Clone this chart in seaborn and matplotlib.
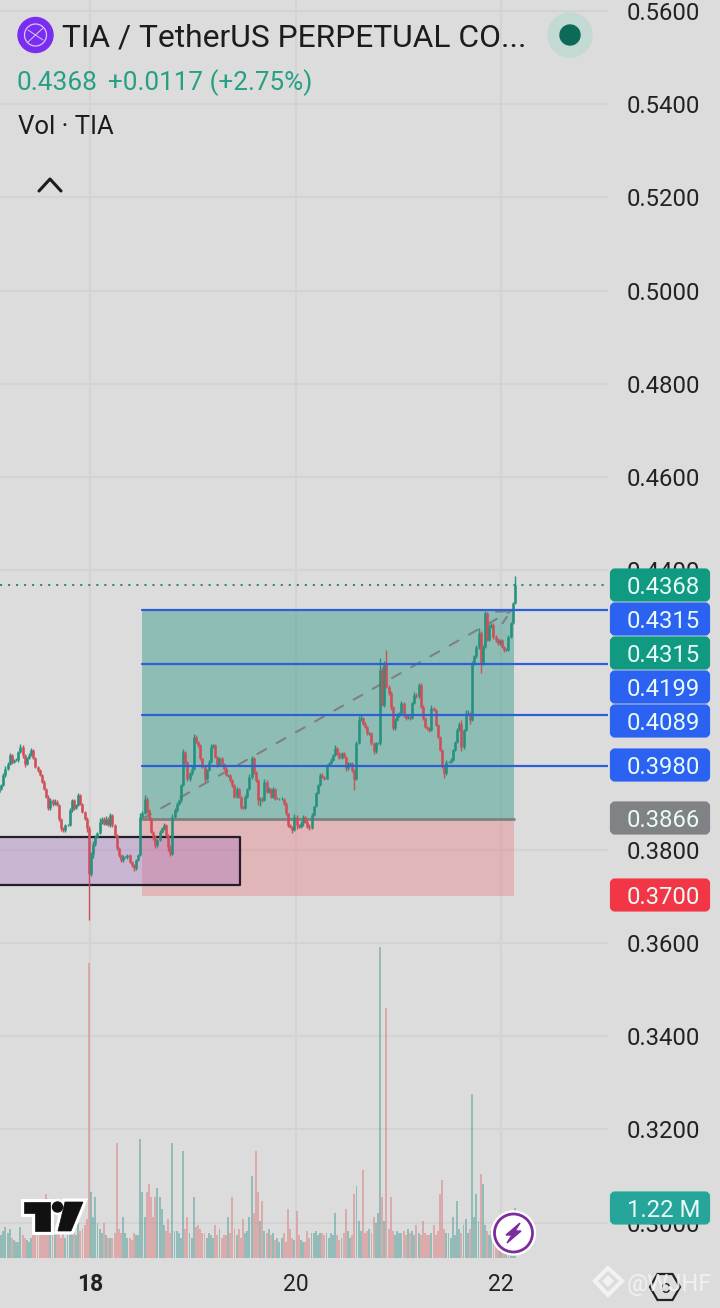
import numpy as np
import pandas as pd
import matplotlib
matplotlib.use('Agg')
import matplotlib.pyplot as plt
import seaborn as sns
from matplotlib.patches import Circle, Ellipse, FancyBboxPatch, Polygon, RegularPolygon

# --- data ---
closes = [
    .3931, .3939, .3960, .3974, .3985, .4003, .3989, .3992, .3992, .4010, .4021, .4003, .3985, .3996, .4003, .4014, .3996, .3978, .3971, .3960,
    .3946, .3931, .3914, .3889, .3906, .3899, .3903, .3896, .3867, .3846, .3842, .3853, .3853, .3885, .3906, .3889, .3896, .3917, .3899, .3881,
    .3867, .3846, .3749, .3792, .3813, .3828, .3835, .3860, .3867, .3856, .3867, .3853, .3874, .3853, .3831, .3803, .3788, .3778, .3785, .3785,
    .3788, .3774, .3767, .3760, .3778, .3788, .3871, .3878, .3910, .3885, .3867, .3838, .3828, .3810, .3821, .3838, .3846, .3853, .3831, .3806,
    .3792, .3871, .3885, .3899, .3906, .3939, .4010, .3989, .3953, .3964, .3974, .4042, .4032, .4024, .3996, .3978, .3953, .3971, .3989, .4021,
    .4024, .3999, .3982, .3996, .3985, .3974, .3960, .3960, .3949, .3939, .3914, .3931, .3914, .3892, .3889, .3914, .3931, .3956, .3996, .3967,
    .3949, .3906, .3910, .3906, .3946, .3924, .3931, .3914, .3931, .3910, .3910, .3910, .3910, .3899, .3878, .3853, .3849, .3842, .3871, .3853,
    .3850, .3857, .3871, .3860, .3850, .3846, .3875, .3893, .3921, .3939, .3961, .3957, .3953, .3982, .3986, .3993, .4004, .4018, .4007, .3996,
    .4007, .4000, .3975, .3986, .3986, .3971, .3953, .4029, .4079, .4082, .4071, .4064, .4050, .4050, .4029, .4011, .4029, .4029, .4186, .4111,
    .4200, .4150, .4136, .4107, .4061, .4079, .4089, .4093, .4114, .4089, .4082, .4086, .4082, .4114, .4132, .4129, .4154, .4107, .4082, .4064,
    .4061, .4057, .4104, .4100, .4068, .4043, .4014, .3979, .3964, .3989, .3989, .3993, .4014, .4032, .4057, .4071, .4021, .4057, .4093, .4093,
    .4079, .4200, .4215, .4236, .4265, .4200, .4236, .4308, .4250, .4279, .4283, .4257, .4250, .4243, .4250, .4236, .4229, .4229, .4257, .4286,
    .4329, .4368,
]
# wick lengths in price ticks of 0.0001
upper_wick = [
    3, 2, 4, 5, 3, 4, 3, 2, 4, 3, 6, 3, 2, 3, 4, 5, 2, 3, 2, 2,
    2, 3, 2, 3, 5, 4, 6, 3, 2, 2, 2, 3, 2, 5, 4, 3, 2, 4, 3, 2,
    2, 3, 5, 3, 6, 4, 3, 8, 4, 3, 5, 4, 6, 3, 2, 2, 3, 2, 3, 2,
    3, 2, 2, 3, 2, 3, 8, 6, 8, 3, 2, 3, 2, 3, 3, 4, 3, 5, 3, 2,
    4, 6, 5, 3, 4, 3, 6, 3, 2, 4, 5, 6, 5, 2, 3, 2, 4, 3, 3, 5,
    4, 3, 2, 4, 3, 2, 3, 2, 2, 3, 2, 3, 2, 2, 3, 3, 2, 6, 5, 3,
    3, 2, 4, 3, 5, 3, 4, 2, 3, 2, 3, 2, 3, 2, 3, 2, 2, 3, 6, 3,
    3, 4, 3, 2, 3, 5, 3, 2, 3, 3, 4, 3, 2, 3, 2, 3, 2, 6, 3, 2,
    3, 2, 2, 3, 2, 3, 3, 5, 8, 7, 3, 4, 2, 3, 2, 3, 2, 2, 25, 6,
    5, 29, 3, 4, 2, 3, 5, 3, 6, 3, 2, 3, 2, 4, 6, 4, 5, 4, 3, 2,
    2, 3, 6, 3, 2, 2, 2, 3, 4, 3, 2, 3, 3, 2, 4, 3, 8, 3, 6, 8,
    3, 5, 4, 3, 10, 5, 4, 5, 3, 5, 4, 3, 3, 4, 3, 3, 2, 3, 3, 3,
    3, 20,
]
lower_wick = [
    3, 3, 2, 3, 2, 3, 5, 3, 2, 4, 2, 5, 7, 3, 2, 2, 2, 3, 3, 2,
    3, 2, 3, 4, 3, 5, 3, 3, 6, 5, 4, 4, 2, 2, 3, 3, 2, 3, 2, 3,
    3, 8, 100, 5, 10, 4, 3, 2, 4, 3, 3, 2, 3, 5, 3, 4, 3, 5, 4, 3,
    4, 3, 4, 6, 3, 3, 2, 3, 2, 5, 4, 3, 8, 6, 4, 3, 2, 3, 4, 8,
    6, 3, 2, 3, 2, 3, 2, 5, 6, 5, 3, 2, 3, 3, 4, 3, 8, 3, 2, 3,
    3, 2, 4, 3, 3, 3, 2, 4, 3, 4, 3, 3, 3, 5, 2, 2, 2, 2, 3, 4,
    3, 10, 13, 3, 2, 3, 3, 3, 2, 3, 2, 3, 3, 3, 3, 4, 3, 5, 2, 8,
    4, 3, 6, 3, 4, 3, 2, 3, 2, 2, 3, 2, 3, 2, 2, 2, 3, 3, 3, 2,
    2, 3, 6, 3, 3, 3, 24, 3, 2, 2, 3, 3, 3, 4, 5, 5, 3, 3, 4, 3,
    4, 3, 4, 6, 4, 3, 3, 3, 2, 3, 3, 2, 3, 2, 2, 3, 3, 3, 3, 3,
    3, 4, 2, 3, 3, 3, 3, 4, 10, 4, 3, 3, 3, 3, 3, 3, 8, 4, 3, 3,
    8, 3, 3, 3, 6, 21, 3, 3, 3, 3, 3, 4, 5, 3, 4, 4, 5, 2, 2, 2,
    2, 2,
]
# volume in millions
volumes = [
    3.45, .55, .65, .75, .6, .7, .5, .45, .4, .4, .75, .55, .5, .45, .4, .5, .55, .9, .7, .6,
    .65, .55, 1.55, .7, .6, .55, .7, .75, .6, .5, .65, .5, .55, .9, .7, .6, .55, .85, .65, .7,
    .8, .95, 7.2, 1.6, 1.0, 1.5, .85, .7, .6, .85, .55, .5, .5, .5, .6, 2.8, .7, .6, 1.0, .6,
    .5, .5, .45, .6, .55, .55, 2.9, 1.6, 1.0, 1.6, 1.8, 1.5, 1.0, 1.5, 1.7, 1.5, 1.2, .8, .65, .95,
    .6, 2.8, .65, .65, .6, .5, 2.6, .7, 1.0, .6, .5, 1.5, .75, .8, .7, .6, .6, .5, .6, .55,
    .5, .8, .55, .7, .5, .55, .55, 1.0, .6, 1.5, .7, .55, .7, .5, .95, .6, .65, 1.0, 2.0, 1.1,
    2.6, 1.6, .9, 1.4, .65, .6, .7, .55, .6, .45, .5, .4, .5, .6, .4, 1.2, .7, .5, .45, 1.15,
    .55, .45, .4, .4, .65, .5, .6, .6, .65, .55, .6, .6, .55, .6, .5, .6, .55, 1.1, .55, .45,
    .5, .6, 1.2, .65, .5, .55, 1.55, 1.75, .9, .65, 2.15, .6, .65, .7, .6, 1.0, .85, 1.1, 7.6, 1.5,
    .9, 6.1, .7, 1.5, .65, .55, .65, .6, .6, .65, .55, .7, .6, .65, .55, .8, .6, .55, .9, .6,
    .55, .55, .6, .8, .55, .65, 1.55, 1.9, .7, .6, .6, .5, 1.0, .55, 1.4, .7, .6, .8, .95, .6,
    .7, 4.0, 1.0, 1.55, .9, 2.05, 1.8, .8, .65, .55, .65, .6, .55, .6, .55, .5, .6, .6, .7, .9,
    1.15, 1.22,
]
price_ticks = [0.56, 0.54, 0.52, 0.50, 0.48, 0.46, 0.44, 0.38, 0.36, 0.34, 0.32, 0.30]
day_ticks = [18, 20, 22]
position_lines = [0.4315, 0.4199, 0.4089, 0.3980]
entry_price = 0.3866
stop_price = 0.3700
target_price = 0.4315
last_price = 0.4368
zone_low, zone_high = 0.3724, 0.3827
position_start, position_end = 18.506, 22.126
zone_end = 19.46
tag_labels = ['0.4368', '0.4315', '0.4315', '0.4199', '0.4089', '0.3980', '0.3866', '0.3700', '1.22 M']

GREEN = '#24917d'
RED = '#cf4f58'
BG = '#dcdcdc'
BLUE = '#2c60d8'

sns.set_theme(style='whitegrid', rc={'figure.facecolor': BG, 'axes.facecolor': BG})
plt.rcParams['font.family'] = ['Roboto', 'DejaVu Sans']

W, H = 720, 1308
fig = plt.figure(figsize=(W / 100, H / 100), dpi=100)


def px_to_price(y):
    return 0.56 - (y - 11) / 4660


def px_to_day(x):
    return 18 + (x - 90) / 102.75


rect = [0, (H - 1258) / H, 608 / W, 1258 / H]
ax = fig.add_axes(rect)
ax.set_xlim(px_to_day(0), px_to_day(608))
ax.set_ylim(px_to_price(1258), px_to_price(0))
ax.set_axisbelow(True)
ax.grid(True, color='#d3d3d3', lw=1.5)
sns.despine(ax=ax, left=True, bottom=True, right=True, top=True)

ax.yaxis.tick_right()
ax.set_yticks(price_ticks)
ax.set_yticklabels([f'{t:.4f}' for t in price_ticks], fontsize=17.2, color='#222222')
ax.set_xticks(day_ticks)
ax.set_xticklabels([str(d) for d in day_ticks], fontsize=16.5, color='#222222')
ax.get_xticklabels()[0].set_fontweight('bold')
ax.tick_params(axis='y', length=0, pad=13.5)
ax.tick_params(axis='x', length=0, pad=11)

# candles
df = pd.DataFrame({'close': closes, 'up': upper_wick, 'down': lower_wick, 'volume': volumes})
df['day'] = px_to_day(-1) + np.arange(len(df)) / 48
df['open'] = df['close'].shift(1).fillna(0.3925)
df['high'] = df[['open', 'close']].max(axis=1) + df['up'] * 0.0001
df['low'] = df[['open', 'close']].min(axis=1) - df['down'] * 0.0001
df['dir'] = np.where(df['close'] >= df['open'], 'up', 'down')
colors = df['dir'].map({'up': GREEN, 'down': RED})

# long position boxes
ax.fill_between([position_start, position_end], entry_price, target_price, color='#0f8c76', alpha=0.38, lw=0, zorder=1.6)
ax.fill_between([position_start, position_end], stop_price, entry_price, color='#ec5f68', alpha=0.3, lw=0, zorder=1.6)
ax.plot([position_start, position_end], [entry_price, entry_price], color='#808080', lw=2, zorder=2)

# demand zone
ax.fill_between([px_to_day(-5), zone_end], zone_low, zone_high, color='#a060c0', alpha=0.3, lw=0, zorder=1.8)
ax.plot([px_to_day(-5), zone_end, zone_end, px_to_day(-5)], [zone_high, zone_high, zone_low, zone_low],
        color='#231f2a', lw=1.6, zorder=2.1)

# trend arrow
ax.annotate('', xy=(position_end - 0.01, target_price), xytext=(position_start, entry_price),
            arrowprops=dict(arrowstyle='->,head_length=0.8,head_width=0.4', ls=(0, (4.8, 5.8)), color='#808080', lw=1.5,
                            shrinkA=0, shrinkB=0), zorder=2.2)

ax.vlines(df['day'], df['low'], df['high'], colors=colors, lw=1.0, zorder=3)
ax.vlines(df['day'], df[['open', 'close']].min(axis=1), df[['open', 'close']].max(axis=1), colors=colors, lw=1.8, zorder=3.1)

for level in position_lines:
    sns.lineplot(x=[position_start, px_to_day(608)], y=[level, level], color=BLUE, lw=1.6, ax=ax, zorder=3.5)
ax.plot([px_to_day(0), px_to_day(608)], [last_price, last_price], color=GREEN, lw=1.5, ls=(0, (1, 2.85)), zorder=3.4)
ax.set_xlim(px_to_day(0), px_to_day(608))
ax.set_ylim(px_to_price(1258), px_to_price(0))
ax.set_xlabel('')
ax.set_ylabel('')

# volume pane, same time scale
vol_ax = fig.add_axes(rect, sharex=ax)
vol_ax.patch.set_alpha(0)
sns.barplot(data=df, x='day', y='volume', hue='dir', palette={'up': '#2aa79b', 'down': '#ee5a5f'}, alpha=0.45,
            native_scale=True, dodge=False, legend=False, ax=vol_ax)
# seaborn keeps native-scale bars very thin here, widen them to about one candle
for bar in vol_ax.patches:
    middle = bar.get_x() + bar.get_width() / 2
    bar.set_width(0.9 / 48)
    bar.set_x(middle - 0.45 / 48)
    bar.set_linewidth(0)
vol_ax.set_ylim(0, 1258 * 0.0244)
vol_ax.axis('off')
ax.set_xlim(px_to_day(0), px_to_day(608))

# overlay in pixels for the app chrome
deco = fig.add_axes([0, 0, 1, 1])
deco.set_xlim(0, W)
deco.set_ylim(H, 0)
deco.axis('off')
deco.patch.set_alpha(0)

tag_y = [585, 619, 653, 687, 721, 765, 818, 895, 1208]
tag_colors = ['#119a82', '#2c62f2', '#119a82', '#2c62f2', '#2c62f2', '#2c62f2', '#808285', '#f23645', '#26a69a']
for label, y, c in zip(tag_labels, tag_y, tag_colors):
    deco.add_patch(FancyBboxPatch((612, y - 14.5), 96, 29, boxstyle='round,pad=0,rounding_size=3', facecolor=c, edgecolor=c, lw=3))
    deco.text(627, y, label, color='#e8fbf8', fontsize=17.2, va='center_baseline', ha='left')

# header
deco.add_patch(Ellipse((35.5, 35), 35, 35, color='#7a2df0'))
deco.add_patch(Circle((35.5, 35), 11, fill=False, ec='#d8c8f8', lw=0.9))
deco.plot([28, 43], [42, 28], color='#d8c8f8', lw=0.7)
deco.plot([28, 43], [30, 40], color='#d8c8f8', lw=0.7)
deco.text(62, 35, 'TIA / TetherUS PERPETUAL CO...', fontsize=22.85, color='#1c1c1c', va='center_baseline')
deco.text(16, 80, '0.4368', fontsize=18.9, color='#26a085', va='center_baseline')
deco.text(108, 80, '+0.0117 (+2.75%)', fontsize=18.8, color='#26a085', va='center_baseline')
deco.text(18, 125, 'Vol · TIA', fontsize=18.5, color='#1c1c1c', va='center_baseline')
deco.plot([39, 50, 61], [191, 179, 191], color='#1c1c1c', lw=2.2)
deco.add_patch(Circle((570, 35), 22, color='#c2d9d4'))
deco.add_patch(Circle((570, 35), 10, color='#0c6a58'))

# tradingview logo
t_shape = [(24, 1202), (50, 1202), (50, 1231), (35, 1231), (35, 1213), (24, 1213)]
slash = [(65, 1202), (83, 1202), (71, 1231), (58, 1231)]
for shape in (t_shape, slash):
    deco.add_patch(Polygon(shape, closed=True, facecolor='white', edgecolor='white', lw=5))
deco.add_patch(Circle((57.5, 1207), 7.5, color='white'))
for shape in (t_shape, slash):
    deco.add_patch(Polygon(shape, closed=True, facecolor='#111111', edgecolor='#111111', lw=0.5))
deco.add_patch(Circle((57.5, 1207), 5, color='#111111'))

# lightning badge
deco.add_patch(Circle((513.5, 1233), 22, color='white'))
deco.add_patch(Circle((513.5, 1233), 19, fill=False, ec='#7b2d9e', lw=2))
deco.add_patch(Polygon([(520, 1223), (506, 1235), (512, 1235), (507, 1243), (521, 1231), (515, 1231)], closed=True, color='#7b2d9e'))

# watermark
deco.add_patch(Polygon([(608, 1268), (622, 1281), (608, 1295), (595, 1281)], closed=True, fill=False, ec='#f2f2f2', lw=3))
deco.add_patch(Polygon([(608, 1276), (613, 1281), (608, 1286), (603, 1281)], closed=True, color='#f2f2f2'))
deco.add_patch(RegularPolygon((665, 1287), 6, radius=15, orientation=np.pi / 6, fill=False, ec='#222222', lw=1.6))
deco.text(665, 1286, 'c', fontsize=13, color='#222222', ha='center', va='center_baseline')
deco.text(627, 1282, '@WJHF', fontsize=17, color='#f4f4f4', alpha=0.85, va='center_baseline')

fig.savefig('out.png', dpi=100, facecolor=BG)
